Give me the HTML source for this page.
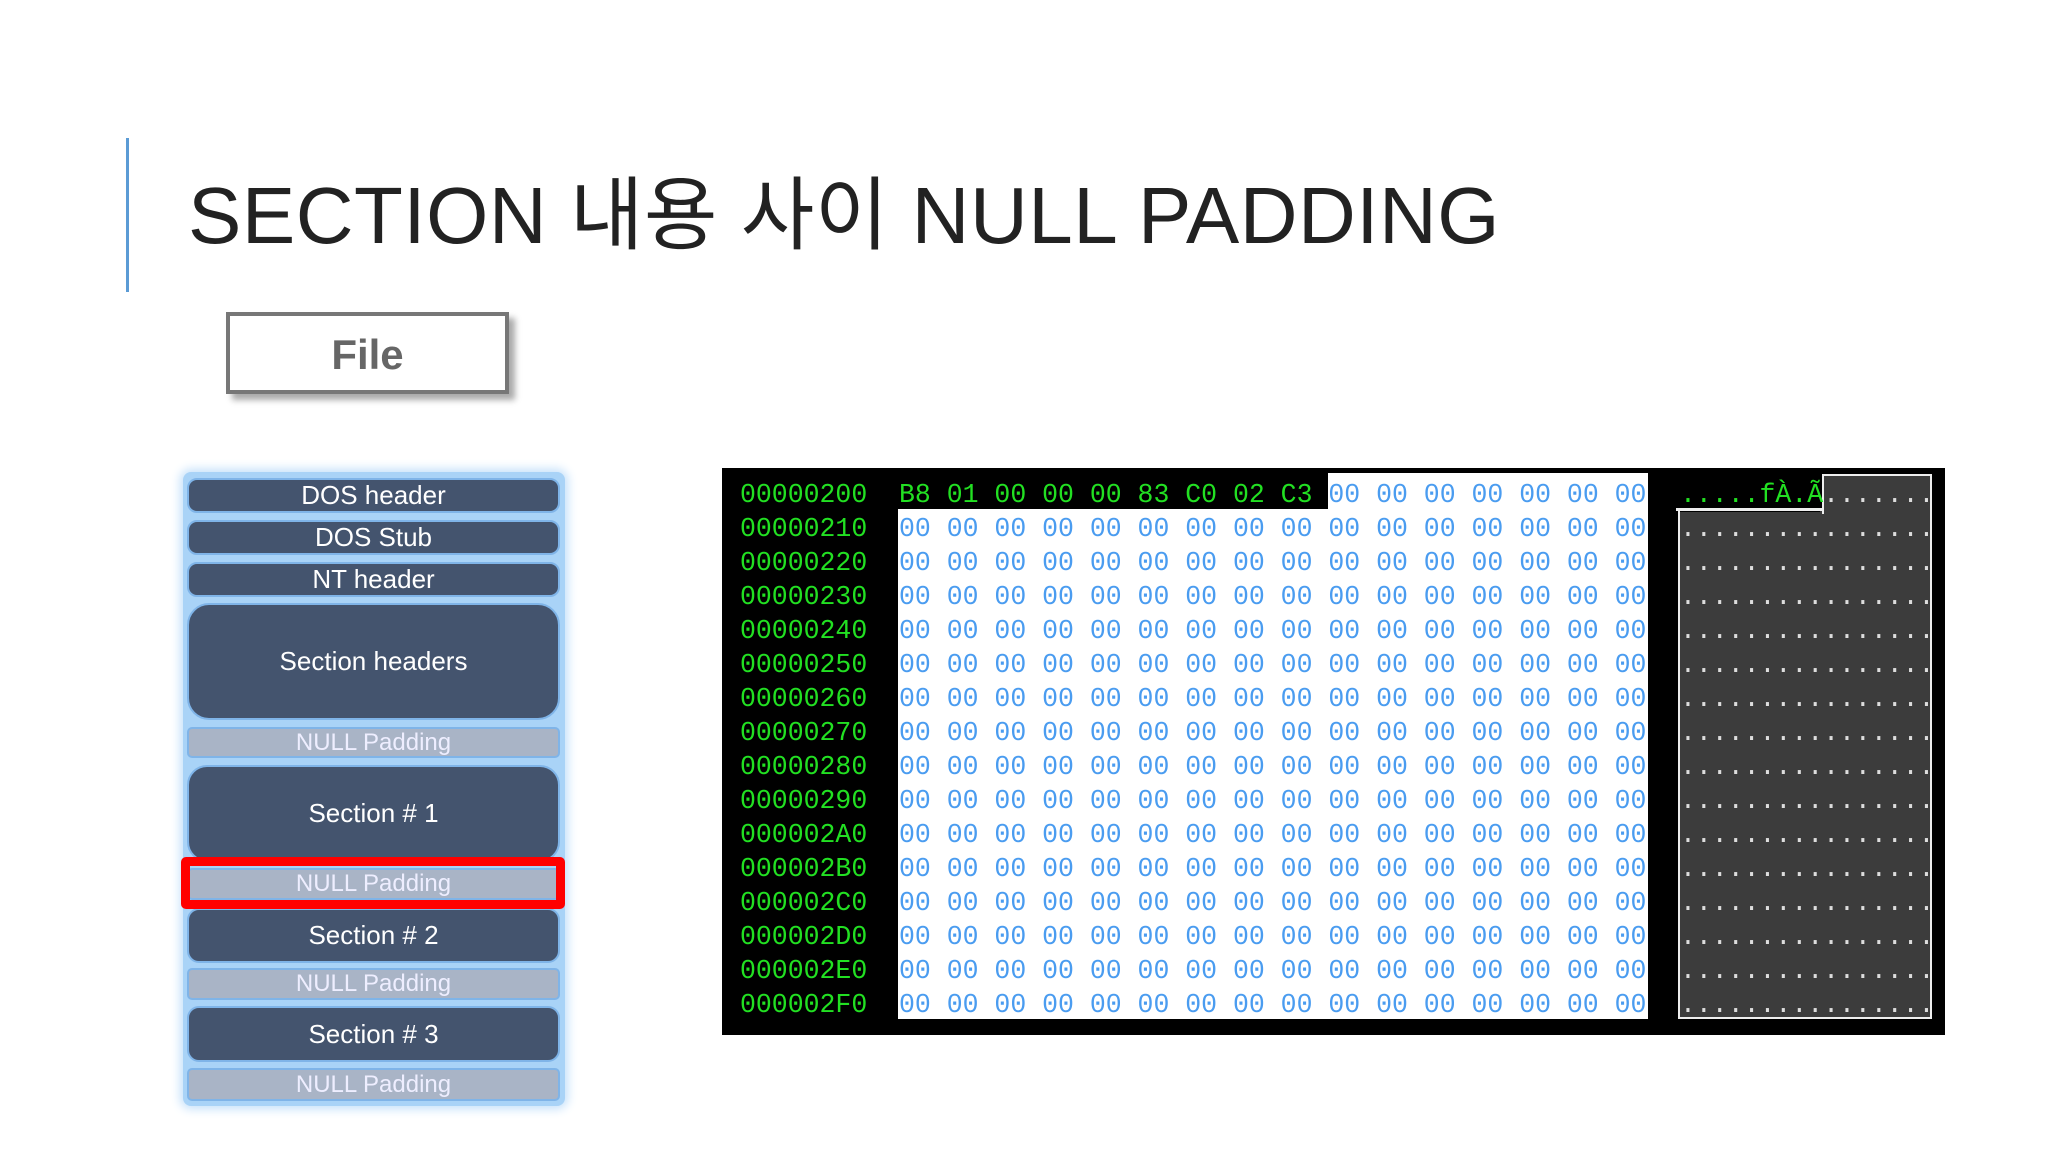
<!DOCTYPE html>
<html><head><meta charset="utf-8"><style>
*{margin:0;padding:0;box-sizing:border-box}
body{width:2048px;height:1152px;background:#fff;position:relative;overflow:hidden;font-family:"Liberation Sans","Noto Sans CJK KR",sans-serif}
.abs{position:absolute}
#bar{left:126px;top:138px;width:3px;height:154px;background:#5b9bd5}
#title{left:188px;top:166px;font-size:80px;color:#222;white-space:nowrap;line-height:100px;letter-spacing:0.5px}
#file{left:226px;top:312px;width:283px;height:82px;border:4px solid #777;background:#fff;box-shadow:6px 6px 6px #aaa;text-align:center;line-height:78px;font-size:42px;font-weight:bold;color:#666}
#glow{left:183px;top:472px;width:382px;height:634px;background:#a9d3f7;border-radius:8px;box-shadow:0 0 10px 3px #c4e0fa}
.blk{position:absolute;left:187px;width:373px;background:#44546e;border-radius:10px;color:#fff;text-align:center;font-size:26px;border:2px solid #7fb4e8;display:flex;align-items:center;justify-content:center}
.np{background:#a9b4c6;color:#eef;border-radius:5px;font-size:24px}
#red{left:181px;top:857px;width:384px;height:52px;border:9px solid #f00;border-radius:5px}
#hex{left:722px;top:468px;width:1223px;height:567px;background:#000}
.row{position:absolute;font-family:"Liberation Mono",monospace;font-size:26.5px;white-space:pre;line-height:30px}
.ad{left:740px;color:#22e022}
.hx{left:899px;color:#4a9cf0}
.g{color:#22e022}
.dt{left:1680px;color:#ddd;letter-spacing:0}
</style></head><body>
<div id="bar" class="abs"></div>
<div id="title" class="abs">SECTION 내용 사이 NULL PADDING</div>
<div id="file" class="abs">File</div>

<div id="glow" class="abs"></div>
<div class="blk" style="top:478px;height:35px">DOS header</div>
<div class="blk" style="top:520px;height:35px">DOS Stub</div>
<div class="blk" style="top:562px;height:35px">NT header</div>
<div class="blk" style="top:603px;height:117px;border-radius:22px">Section headers</div>
<div class="blk np" style="top:727px;height:31px">NULL Padding</div>
<div class="blk" style="top:765px;height:97px;border-radius:20px">Section # 1</div>
<div class="blk np" style="top:868px;height:32px">NULL Padding</div>
<div class="blk" style="top:908px;height:55px;border-radius:12px">Section # 2</div>
<div class="blk np" style="top:968px;height:32px">NULL Padding</div>
<div class="blk" style="top:1006px;height:56px;border-radius:12px">Section # 3</div>
<div class="blk np" style="top:1068px;height:33px">NULL Padding</div>
<div id="red" class="abs"></div>

<div id="hex" class="abs"></div>
<div class="abs" style="left:1328px;top:473px;width:320px;height:40px;background:#fff"></div>
<div class="abs" style="left:898px;top:509px;width:750px;height:510px;background:#fff"></div>
<div class="abs" style="left:1678px;top:509px;width:254px;height:510px;background:#3c3c3c;border:2px solid #eee"></div>
<div class="abs" style="left:1822px;top:474px;width:110px;height:40px;background:#3c3c3c;border:2px solid #eee;border-bottom:none"></div>
<div class="abs" style="left:1680px;top:508px;width:140px;height:4px;background:#000"></div>
<div class="abs" style="left:1676px;top:508px;width:146px;height:3px;background:#eee"></div>

<div class="row ad" style="top:480px">00000200</div>
<div class="row hx" style="top:480px"><span class="g">B8 01 00 00 00 83 C0 02 C3</span> 00 00 00 00 00 00 00</div>
<div class="row dt" style="top:480px"><span class="g">.....fÀ.Ã</span>.......</div>
<div class="row ad" style="top:514px">00000210</div><div class="row hx" style="top:514px">00 00 00 00 00 00 00 00 00 00 00 00 00 00 00 00</div><div class="row dt" style="top:514px">................</div>
<div class="row ad" style="top:548px">00000220</div><div class="row hx" style="top:548px">00 00 00 00 00 00 00 00 00 00 00 00 00 00 00 00</div><div class="row dt" style="top:548px">................</div>
<div class="row ad" style="top:582px">00000230</div><div class="row hx" style="top:582px">00 00 00 00 00 00 00 00 00 00 00 00 00 00 00 00</div><div class="row dt" style="top:582px">................</div>
<div class="row ad" style="top:616px">00000240</div><div class="row hx" style="top:616px">00 00 00 00 00 00 00 00 00 00 00 00 00 00 00 00</div><div class="row dt" style="top:616px">................</div>
<div class="row ad" style="top:650px">00000250</div><div class="row hx" style="top:650px">00 00 00 00 00 00 00 00 00 00 00 00 00 00 00 00</div><div class="row dt" style="top:650px">................</div>
<div class="row ad" style="top:684px">00000260</div><div class="row hx" style="top:684px">00 00 00 00 00 00 00 00 00 00 00 00 00 00 00 00</div><div class="row dt" style="top:684px">................</div>
<div class="row ad" style="top:718px">00000270</div><div class="row hx" style="top:718px">00 00 00 00 00 00 00 00 00 00 00 00 00 00 00 00</div><div class="row dt" style="top:718px">................</div>
<div class="row ad" style="top:752px">00000280</div><div class="row hx" style="top:752px">00 00 00 00 00 00 00 00 00 00 00 00 00 00 00 00</div><div class="row dt" style="top:752px">................</div>
<div class="row ad" style="top:786px">00000290</div><div class="row hx" style="top:786px">00 00 00 00 00 00 00 00 00 00 00 00 00 00 00 00</div><div class="row dt" style="top:786px">................</div>
<div class="row ad" style="top:820px">000002A0</div><div class="row hx" style="top:820px">00 00 00 00 00 00 00 00 00 00 00 00 00 00 00 00</div><div class="row dt" style="top:820px">................</div>
<div class="row ad" style="top:854px">000002B0</div><div class="row hx" style="top:854px">00 00 00 00 00 00 00 00 00 00 00 00 00 00 00 00</div><div class="row dt" style="top:854px">................</div>
<div class="row ad" style="top:888px">000002C0</div><div class="row hx" style="top:888px">00 00 00 00 00 00 00 00 00 00 00 00 00 00 00 00</div><div class="row dt" style="top:888px">................</div>
<div class="row ad" style="top:922px">000002D0</div><div class="row hx" style="top:922px">00 00 00 00 00 00 00 00 00 00 00 00 00 00 00 00</div><div class="row dt" style="top:922px">................</div>
<div class="row ad" style="top:956px">000002E0</div><div class="row hx" style="top:956px">00 00 00 00 00 00 00 00 00 00 00 00 00 00 00 00</div><div class="row dt" style="top:956px">................</div>
<div class="row ad" style="top:990px">000002F0</div><div class="row hx" style="top:990px">00 00 00 00 00 00 00 00 00 00 00 00 00 00 00 00</div><div class="row dt" style="top:990px">................</div>
</body></html>
